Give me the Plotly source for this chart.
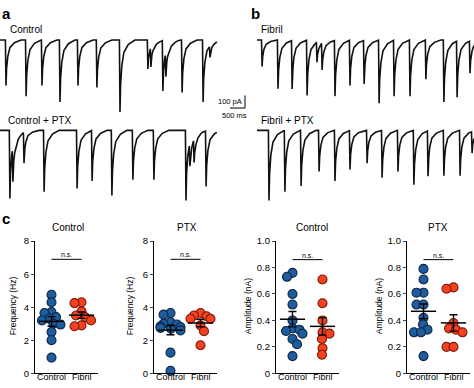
import numpy as np
import plotly.graph_objects as go

W, H = 474, 388
FONT = "Liberation Sans, Arial, Helvetica, sans-serif"

# ---------------- recorded traces: event time (s) and amplitude (pA) ----------------
control_times = [0.20, 0.87, 1.40, 2.00, 2.60, 3.23, 4.00, 4.93, 5.03, 5.43, 5.53, 6.07, 6.77, 7.00]
control_amps = [360, 445, 360, 490, 360, 375, 570, 230, 155, 400, 190, 415, 490, 90]

control_ptx_times = [0.33, 0.43, 0.80, 1.47, 2.57, 3.07, 3.73, 4.43, 5.13, 6.20, 6.33, 6.47, 6.87]
control_ptx_amps = [540, 270, 245, 485, 460, 400, 515, 390, 390, 555, 190, 185, 440]

fibril_times = [0.17, 0.70, 1.17, 1.67, 2.00, 2.17, 2.60, 3.10, 3.57, 4.07, 4.57, 5.10, 5.63, 6.23, 6.67, 7.10]
fibril_amps = [210, 385, 385, 440, 155, 215, 440, 360, 345, 500, 445, 445, 310, 490, 445, 255]

fibril_ptx_times = [0.40, 0.93, 1.47, 2.07, 2.60, 3.10, 3.67, 4.17, 4.70, 5.23, 5.70, 6.23, 6.77, 7.17]
fibril_ptx_amps = [555, 485, 440, 325, 400, 310, 260, 375, 325, 430, 360, 360, 360, 170]

sweep_length_s = 7.23
scale_bar_pA = 100
scale_bar_ms = 500

# ---------------- summary data ----------------
categories = ["Control", "Fibril"]
freq_control_ctrl = [4.75, 4.3, 3.7, 3.65, 3.4, 3.3, 3.2, 3.0, 2.95, 2.5, 2.0, 0.95]
freq_control_fib = [4.3, 4.25, 3.75, 3.5, 3.4, 3.2, 2.9, 2.85]
freq_ptx_ctrl = [3.65, 3.55, 3.1, 3.0, 2.95, 2.85, 2.8, 2.75, 2.7, 2.6, 1.25, 0.15]
freq_ptx_fib = [3.65, 3.5, 3.45, 3.3, 3.3, 2.9, 2.55, 1.7]
amp_control_ctrl = [0.76, 0.73, 0.60, 0.52, 0.40, 0.34, 0.33, 0.32, 0.30, 0.26, 0.22, 0.13]
amp_control_fib = [0.71, 0.53, 0.40, 0.31, 0.30, 0.26, 0.19, 0.14]
amp_ptx_ctrl = [0.79, 0.71, 0.61, 0.61, 0.52, 0.52, 0.42, 0.37, 0.33, 0.31, 0.31, 0.13]
amp_ptx_fib = [0.65, 0.64, 0.38, 0.34, 0.33, 0.31, 0.20, 0.20]

# ---------------- helpers ----------------
PX_PER_S = 30.0
PX_PER_PA = 0.13
KERNEL_DT = np.array([-0.02, 0.0, 0.02, 0.06, 0.13, 0.28, 0.50])
KERNEL_F = np.array([0.0, -1.0, -0.62, -0.36, -0.17, -0.06, 0.0])


def build_sweep(times, amps, length):
    grid = {0.0, length}
    for t in times:
        for d in KERNEL_DT:
            if 0 <= t + d <= length:
                grid.add(round(t + d, 5))
    grid = np.array(sorted(grid))
    y = np.zeros_like(grid)
    for t, a in zip(times, amps):
        y += a * np.interp(grid, KERNEL_DT + t, KERNEL_F, left=0.0, right=0.0)
    return grid, y


def xdom(a, b):
    return [a / W, b / W]


def ydom(top, bottom):
    return [1 - bottom / H, 1 - top / H]


def ax_name(kind, n):
    return f"{kind}axis" if n == 1 else f"{kind}axis{n}"


def ref(kind, n):
    return kind if n == 1 else f"{kind}{n}"


fig = go.Figure()
layout = dict(
    width=W, height=H, margin=dict(l=0, r=0, t=0, b=0),
    paper_bgcolor="white", plot_bgcolor="white", showlegend=False,
    font=dict(family=FONT, color="black"),
)
shapes, annotations = [], []

# ---------------- sweeps ----------------
sweeps = [
    # n, times, amps, x0px, x1px, t0px, top, bottom, baseline
    (1, control_times, control_amps, 0, 252, 0, 15, 112, 35),
    (2, control_ptx_times, control_ptx_amps, 0, 217, 0, 112, 206, 128),
    (3, fibril_times, fibril_amps, 257, 474, 257, 15, 112, 35),
    (4, fibril_ptx_times, fibril_ptx_amps, 257, 474, 257, 112, 206, 128),
]
for n, ts, am, x0, x1, t0, top, bot, base in sweeps:
    t, y = build_sweep(ts, am, sweep_length_s)
    fig.add_trace(go.Scatter(x=t, y=y, mode="lines", line=dict(color="#111111", width=1.6),
                             xaxis=ref("x", n), yaxis=ref("y", n), hoverinfo="skip"))
    layout[ax_name("x", n)] = dict(domain=xdom(x0, x1), range=[(x0 - t0) / PX_PER_S, (x1 - t0) / PX_PER_S],
                                   visible=False, anchor=ref("y", n), fixedrange=True)
    layout[ax_name("y", n)] = dict(domain=ydom(top, bot), range=[-(bot - base) / PX_PER_PA, (base - top) / PX_PER_PA],
                                   visible=False, anchor=ref("x", n), fixedrange=True)

# scale bar in the first sweep's axes
sb_t, sb_a = 245 / PX_PER_S, -(105 - 35) / PX_PER_PA
sb_len_t = scale_bar_ms / 1000.0
shapes.append(dict(type="line", xref="x", yref="y", x0=sb_t, x1=sb_t, y0=sb_a, y1=sb_a + scale_bar_pA,
                   line=dict(color="black", width=1)))
shapes.append(dict(type="line", xref="x", yref="y", x0=sb_t - sb_len_t, x1=sb_t, y0=sb_a, y1=sb_a,
                   line=dict(color="black", width=1)))
annotations.append(dict(x=sb_t - 0.05, y=sb_a + scale_bar_pA / 2, xref="x", yref="y", text=f"{scale_bar_pA} pA",
                        showarrow=False, xanchor="right", yanchor="middle", font=dict(size=7.5)))
annotations.append(dict(x=sb_t - sb_len_t / 2 - 0.1, y=sb_a, xref="x", yref="y", text=f"{scale_bar_ms} ms",
                        showarrow=False, xanchor="center", yanchor="top", yshift=-1, font=dict(size=7.5)))


def text_px(txt, x, y, size, xanchor="left", bold=False, angle=0, yanchor="middle"):
    annotations.append(dict(x=x / W, y=1 - y / H, xref="paper", yref="paper",
                            text=f"<b>{txt}</b>" if bold else txt, showarrow=False,
                            xanchor=xanchor, yanchor=yanchor, textangle=angle, font=dict(size=size)))


text_px("a", 0, 8, 15, bold=True)
text_px("b", 249, 8, 15, bold=True)
text_px("c", 0, 219, 15, bold=True)
text_px("Control", 8, 24, 10)
text_px("Control + PTX", 6, 118, 10)
text_px("Fibril", 259, 24, 10)
text_px("Fibril + PTX", 259, 118, 10)

# ---------------- summary panels ----------------
BLUE, BLUE_EDGE = "#1f5c9e", "#0b2748"
RED, RED_EDGE = "#f4411f", "#7a1a0a"
XR = [-0.55, 1.55]
PX_X = 30.0
Y_TOP, Y_BOT = 242, 378


def beeswarm(values, px_per_y, diam=6.8):
    order = np.argsort(values)[::-1]
    placed = []
    offs = np.zeros(len(values))
    for k, i in enumerate(order):
        yp = values[i] * px_per_y
        best = None
        for step in np.arange(0, 40, 0.5):
            for sgn in ((1, -1) if k % 2 == 0 else (-1, 1)):
                o = step * sgn
                if all(np.hypot(o - xo, yp - yo) >= diam for xo, yo in placed):
                    best = o
                    break
            if best is not None:
                break
        best = float(np.clip(best, -10, 10))
        placed.append((best, yp))
        offs[i] = best / PX_X
    return offs


panels = [
    (5, 35, "Control", 68, "Frequency (Hz)", 13, 8, [0, 2, 4, 6, 8], ["0", "2", "4", "6", "8"],
     freq_control_ctrl, freq_control_fib, 6.9),
    (6, 154, "PTX", 187, "Frequency (Hz)", 130, 8, [0, 2, 4, 6, 8], ["0", "2", "4", "6", "8"],
     freq_ptx_ctrl, freq_ptx_fib, 6.9),
    (7, 276, "Control", 312, "Amplitude (nA)", 248, 1.0, [0, 0.2, 0.4, 0.6, 0.8, 1.0],
     ["0", "0.2", "0.4", "0.6", "0.8", "1.0"], amp_control_ctrl, amp_control_fib, 0.86),
    (8, 407, "PTX", 438, "Amplitude (nA)", 379, 1.0, [0, 0.2, 0.4, 0.6, 0.8, 1.0],
     ["0", "0.2", "0.4", "0.6", "0.8", "1.0"], amp_ptx_ctrl, amp_ptx_fib, 0.86),
]

for n, x0, title, title_x, ylab, ylab_x, ymax, tv, tt, g1, g2, ns_y in panels:
    xr, yr = ref("x", n), ref("y", n)
    x1 = x0 + (XR[1] - XR[0]) * PX_X
    px_per_y = (Y_BOT - Y_TOP) / ymax
    for gi, (vals, fc, ec) in enumerate([(g1, BLUE, BLUE_EDGE), (g2, RED, RED_EDGE)]):
        vals = np.array(vals, dtype=float)
        offs = beeswarm(vals, px_per_y)
        fig.add_trace(go.Scatter(x=gi + offs, y=vals, mode="markers", xaxis=xr, yaxis=yr, cliponaxis=False,
                                 marker=dict(size=9, color=fc, line=dict(color=ec, width=1.1)),
                                 hoverinfo="skip"))
    for gi, vals in enumerate([g1, g2]):
        vals = np.array(vals, dtype=float)
        m = vals.mean()
        sem = vals.std(ddof=1) / np.sqrt(len(vals))
        fig.add_trace(go.Scatter(x=[gi], y=[m], mode="markers", xaxis=xr, yaxis=yr, cliponaxis=False,
                                 marker=dict(symbol="line-ew-open", size=18, color="black",
                                             line=dict(color="black", width=1.5)),
                                 error_y=dict(type="data", array=[sem], color="black", thickness=1.4, width=4),
                                 hoverinfo="skip"))
    layout[ax_name("x", n)] = dict(domain=xdom(x0, x1), range=XR, anchor=yr, showline=True, linecolor="black",
                                   linewidth=1.2, ticks="", showticklabels=False,
                                   showgrid=False, zeroline=False, fixedrange=True)
    layout[ax_name("y", n)] = dict(domain=ydom(Y_TOP, Y_BOT), range=[0, ymax], anchor=xr, showline=True,
                                   linecolor="black", linewidth=1.2, ticks="outside", ticklen=3, tickwidth=1.2,
                                   tickvals=tv, ticktext=tt, tickfont=dict(size=9.5), showgrid=False,
                                   zeroline=False, fixedrange=True)
    # category labels just under the axis line
    for gi, cat in enumerate(categories):
        annotations.append(dict(x=gi, y=1 - 388 / H, xref=xr, yref="paper", text=cat, showarrow=False,
                                xanchor="center", yanchor="bottom", borderpad=0, font=dict(size=9)))
    shapes.append(dict(type="line", xref=xr, yref=yr, x0=0, x1=1, y0=ns_y, y1=ns_y,
                       line=dict(color="black", width=1)))
    annotations.append(dict(x=0.5, y=ns_y, xref=xr, yref=yr, text="n.s.", showarrow=False,
                            yanchor="bottom", yshift=-1, font=dict(size=7)))
    text_px(title, title_x, 228, 10, xanchor="center")
    text_px(ylab, ylab_x, 309, 8.5, xanchor="center", angle=-90)

layout["shapes"] = shapes
layout["annotations"] = annotations
fig.update_layout(**layout)
fig.write_html("out.html", config={"displayModeBar": False},
               post_script="document.body.style.margin='0';document.documentElement.style.overflow='hidden';")
